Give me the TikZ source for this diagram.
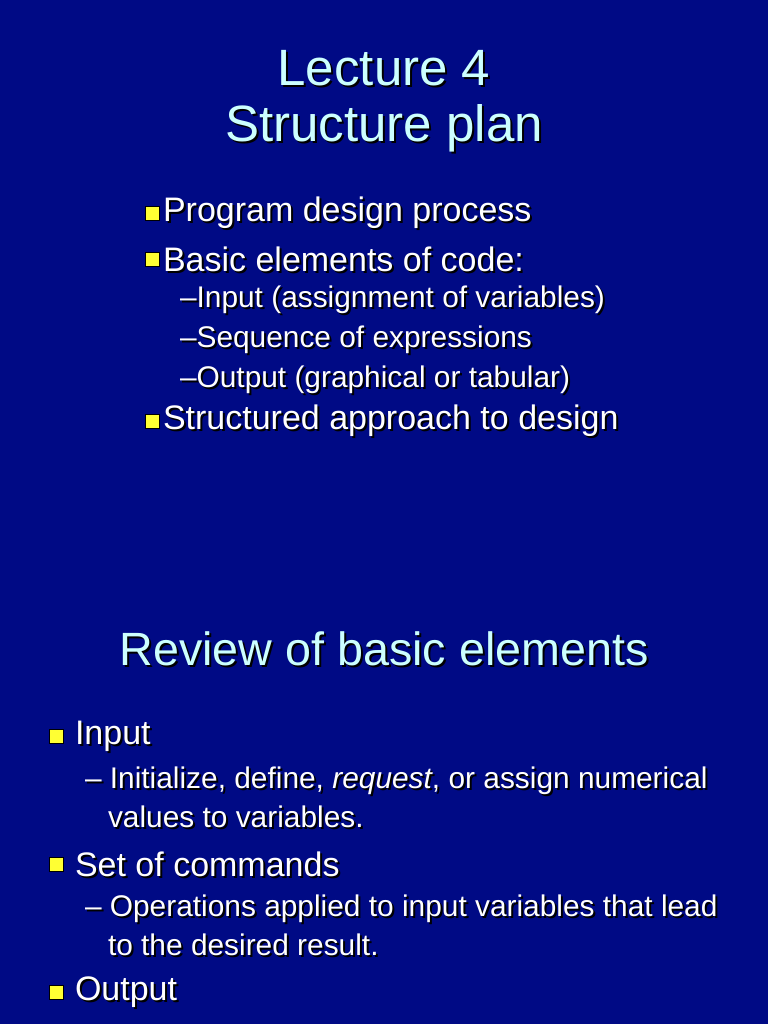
\documentclass[tikz,border=0pt]{standalone}
\usepackage{fontspec}
\setmainfont{Liberation Sans}
\definecolor{bg}{HTML}{000A85}
\definecolor{ttl}{HTML}{CCFFFF}
\definecolor{bul}{HTML}{FFFF33}
\newcommand{\shtxt}[5]{% name, pos, anchor, style, text
  \node[#4,anchor=#3,text=black,xshift=1.5pt,yshift=-1.5pt] at #2 {#5};
  \node[#4,anchor=#3] (#1) at #2 {#5};}
\begin{document}
\begin{tikzpicture}[x=0.75pt,y=-0.75pt,
  every node/.style={inner sep=0pt,outer sep=0pt},
  ttlstyle/.style={text=ttl,font=\fontsize{38.3}{44}\selectfont},
  ttlb/.style={text=ttl,font=\fontsize{35}{40}\selectfont},
  bigtxt/.style={text=white,font=\fontsize{25.5}{30}\selectfont},
  smalltxt/.style={text=white,font=\fontsize{22.4}{27}\selectfont},
  midtxt/.style={text=white,font=\fontsize{22.4}{27}\selectfont},
  sq/.style={fill=bul,draw=black,line width=0.4pt,minimum size=10.5pt}]
\fill[bg] (0,0) rectangle (768,1024);
\useasboundingbox (0,0) rectangle (768,1024);
% slide 1
\shtxt{t1}{(384,68)}{center}{ttlstyle}{Lecture 4}
\shtxt{t2}{(384,128)}{center}{ttlstyle}{Structure plan}
\node[sq] (b1) at (152,213) {};
\shtxt{l1}{(163,213)}{west}{bigtxt}{Program design process}
\node[sq] (b2) at (152,259) {};
\shtxt{l2}{(163,259)}{west}{bigtxt}{Basic elements of code:}
\shtxt{s1}{(180,300)}{west}{smalltxt}{–Input (assignment of variables)}
\shtxt{s2}{(180,340)}{west}{smalltxt}{–Sequence of expressions}
\shtxt{s3}{(180,380)}{west}{smalltxt}{–Output (graphical or tabular)}
\node[sq] (b3) at (152,421) {};
\shtxt{l3}{(163,421)}{west}{bigtxt}{Structured approach to design}
% slide 2
\shtxt{t3}{(384,649)}{center}{ttlb}{Review of basic elements}
\node[sq] (c1) at (56,736) {};
\shtxt{m1}{(75,736)}{west}{bigtxt}{Input}
\shtxt{n1}{(85,781)}{west}{midtxt}{– Initialize, define, \textit{request}, or assign numerical}
\shtxt{n2}{(108,817)}{west}{midtxt}{values to variables.}
\node[sq] (c2) at (56,864) {};
\shtxt{m2}{(75,864)}{west}{bigtxt}{Set of commands}
\shtxt{n3}{(85,909)}{west}{midtxt}{– Operations applied to input variables that lead}
\shtxt{n4}{(108,945)}{west}{midtxt}{to the desired result.}
\node[sq] (c3) at (56,992) {};
\shtxt{m3}{(75,992)}{west}{bigtxt}{Output}
\end{tikzpicture}
\end{document}
